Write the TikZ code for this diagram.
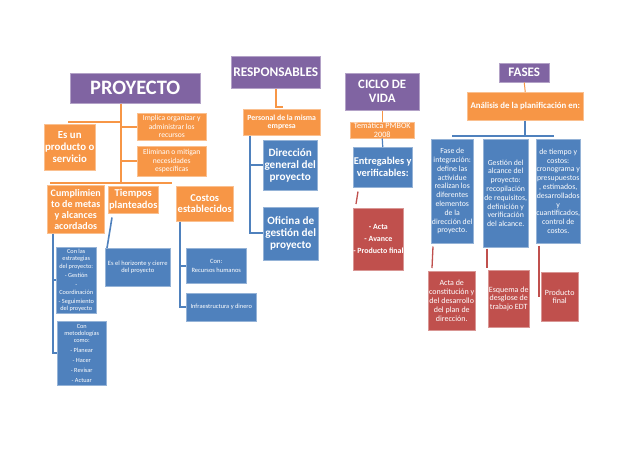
\documentclass[tikz,border=0pt]{standalone}
\usepackage{fontspec}
\setmainfont{Carlito}
\usetikzlibrary{positioning}
\definecolor{MapPurple}{RGB}{128,100,162}
\definecolor{MapOrange}{RGB}{247,150,70}
\definecolor{MapBlue}{RGB}{79,129,189}
\definecolor{MapRed}{RGB}{192,80,77}
\newcommand{\fsz}[2]{\fontsize{#1}{#2}\selectfont}

\begin{document}
\begin{tikzpicture}[x=1pt, y=-1pt,
  box/.style={anchor=north west, inner sep=1pt, align=center, text=white, line width=0.5pt},
  pbox/.style={box, fill=MapPurple, draw=MapPurple!60!white},
  obox/.style={box, fill=MapOrange, draw=MapOrange!60!white},
  bbox/.style={box, fill=MapBlue, draw=MapBlue!60!white},
  rbox/.style={box, fill=MapRed, draw=MapRed!60!white},
  oline/.style={draw=MapOrange, line width=1.6pt},
  bline/.style={draw=MapBlue, line width=1.6pt},
  rline/.style={draw=MapRed, line width=1.3pt}]
\fill[white] (0,0) rectangle (638,451); % background
\useasboundingbox (0,0) rectangle (638,451);

% PROYECTO
\node[pbox, minimum width=130, minimum height=30, font={\fsz{20.5}{23}\bfseries}] (proy) at (70,73) {PROYECTO};
\node[obox, minimum width=69, minimum height=27, inner sep=0pt, font=\fsz{7.6}{8.4}] (impl) at (137,113) {Implica organizar y\\administrar los\\recursos};
\node[obox, minimum width=51, minimum height=46, inner sep=0pt, font={\fsz{10.8}{12}\bfseries}] (prod) at (44,124) {Es un\\producto o\\servicio};
\node[obox, minimum width=69, minimum height=30, inner sep=0pt, font=\fsz{7.6}{8.4}] (elim) at (137,146) {Eliminan o mitigan\\necesidades\\específicas};
\node[obox, minimum width=57, minimum height=48, inner sep=0pt, font={\fsz{10}{11}\bfseries}] (cump) at (47,185) {Cumplimien\\to de metas\\y alcances\\acordados};
\node[obox, minimum width=50, minimum height=27, inner sep=0pt, font={\fsz{10.5}{11.5}\bfseries}] (tiemp) at (108,186) {Tiempos\\planteados};
\node[obox, minimum width=57, minimum height=35, inner sep=0pt, font={\fsz{10.5}{11.5}\bfseries}] (cost) at (176,186) {Costos\\establecidos};

\node[bbox, minimum width=40, minimum height=66, inner sep=0pt, font=\fsz{6.3}{7.6}] (estr) at (56,247) {Con las\\estrategias\\del proyecto:\\[1.5pt]- Gestión\\[1.5pt]-\\Coordinación\\[1.5pt]- Seguimiento\\del proyecto};
\node[bbox, minimum width=49, minimum height=64, inner sep=0pt, font=\fsz{6.3}{7.4}] (meto) at (57,321) {Con\\metodologías\\como:\\[2.5pt]- Planear\\[2.5pt]- Hacer\\[2.5pt]- Revisar\\[2.5pt]- Actuar};
\node[bbox, minimum width=65, minimum height=38, inner sep=0pt, font=\fsz{6.5}{7.8}] (horiz) at (105,248) {Es el horizonte y cierre\\del proyecto};
\node[bbox, minimum width=60, minimum height=35, inner sep=0pt, font=\fsz{6.5}{8}] (recu) at (186,248) {Con:\\[1pt]Recursos humanos};
\node[bbox, minimum width=70, minimum height=28, inner sep=0pt, font=\fsz{6.4}{7.4}] (infra) at (186,293) {Infraestructura y dinero};

\coordinate (ptrunk) at (121,183);
\coordinate (pleft) at (68,122);
\coordinate (pbar) at (50,183);
\coordinate (pbarend) at (172,183);
\draw[oline] (ptrunk |- proy.south) -- (ptrunk);
\draw[oline] (pleft) -- (pleft -| ptrunk);
\draw[oline] (ptrunk |- impl.west) -- (impl.west);
\draw[oline] (ptrunk |- elim.west) -- (elim.west);
\draw[oline] (pbar) -- (pbarend);

\coordinate (cline) at (53,353);
\draw[bline] (cline |- cump.south) -- (cline) -- (cline -| meto.west);
\draw[bline] (cline |- estr.west) -- (estr.west);
\draw[bline] ([xshift=4pt,yshift=-4pt]tiemp.south west) -- ([xshift=2pt]horiz.north west);
\coordinate (kline) at (180,307);
\draw[bline] (kline |- cost.south) -- (kline) -- (kline -| infra.west);
\draw[bline] (kline |- recu.west) -- (recu.west);

% RESPONSABLES
\node[pbox, minimum width=89, minimum height=32, font={\fsz{13.3}{15}\bfseries}] (resp) at (231,56) {RESPONSABLES};
\node[obox, minimum width=77, minimum height=26, inner sep=0pt, font={\fsz{7.8}{8.6}\bfseries}] (pers) at (243,109) {Personal de la misma\\empresa};
\node[bbox, minimum width=54, minimum height=50, inner sep=0pt, font={\fsz{11.2}{12}\bfseries}] (dire) at (263,140) {Dirección\\general del\\proyecto};
\node[bbox, minimum width=55, minimum height=53, inner sep=0pt, font={\fsz{11.2}{12}\bfseries}] (ofic) at (263,207) {Oficina de\\gestión del\\proyecto};

\coordinate (rhook) at (276,107);
\coordinate (rhookend) at (283,107);
\draw[oline, line width=1.2pt] (rhook |- resp.south) -- (rhook) -- (rhookend);
\coordinate (pline) at (250,233);
\draw[bline] (pline |- pers.south) -- (pline) -- (pline -| ofic.west);
\draw[bline] (pline |- dire.west) -- (dire.west);

% CICLO DE VIDA
\node[pbox, minimum width=74, minimum height=37, font={\fsz{12.8}{14}\bfseries}] (cicl) at (345,73) {CICLO DE\\VIDA};
\node[obox, minimum width=64, minimum height=16, inner sep=0pt, font=\fsz{8.2}{8.4}] (tema) at (350,122) {Temática PMBOK\\2008};
\node[bbox, minimum width=59, minimum height=40, inner sep=0pt, font={\fsz{10.4}{12}\bfseries}] (entr) at (353,147) {Entregables y\\verificables:};
\node[rbox, minimum width=49, minimum height=62, inner sep=0pt, font={\fsz{7.9}{12}\bfseries}] (ciac) at (353,208) {- Acta\\- Avance\\- Producto final};

\draw[oline, line width=1.2pt] (cicl.south) -- (tema.north);
\draw[bline, line width=1.2pt] (tema.south) -- (entr.north);
\draw[rline] ([xshift=5pt,yshift=-4pt]entr.south west) -- ([xshift=3pt,yshift=4pt]ciac.north west);

% FASES
\node[pbox, minimum width=50, minimum height=19, inner sep=0pt, font={\fsz{13}{14}\bfseries}] (fase) at (499,63) {FASES};
\node[obox, minimum width=116, minimum height=28, inner sep=0pt, font={\fsz{8.8}{9}\bfseries}] (anal) at (467,92) {Análisis de la planificación en:};
\node[bbox, minimum width=42, minimum height=104, inner sep=0pt, font=\fsz{7.8}{8.8}] (integ) at (431,139) {Fase de\\integración:\\define las\\actividue\\realizan los\\diferentes\\elementos\\de la\\dirección del\\proyecto.};
\node[bbox, minimum width=45, minimum height=108, inner sep=0pt, font=\fsz{7.8}{8.8}] (alca) at (483,139) {Gestión del\\alcance del\\proyecto:\\recopilación\\de requisitos,\\definición y\\verificación\\del alcance.};
\node[bbox, minimum width=44, minimum height=104, inner sep=0pt, font=\fsz{7.8}{8.8}] (tiem) at (536,139) {de tiempo y\\costos:\\cronograma y\\presupuestos\\, estimados,\\desarrollados\\y\\cuantificados,\\control de\\costos.};
\node[rbox, minimum width=47, minimum height=59, inner sep=0pt, font=\fsz{8}{8.8}] (acon) at (428,271) {Acta de\\constitución y\\del desarrollo\\del plan de\\dirección.};
\node[rbox, minimum width=41, minimum height=57, inner sep=0pt, font=\fsz{8}{8.8}] (esq) at (488,270) {Esquema de\\desglose de\\trabajo EDT};
\node[rbox, minimum width=37, minimum height=49, inner sep=0pt, font=\fsz{8}{8.8}] (pfin) at (541,272) {Producto\\final};

\coordinate (fbarl) at (452,136);
\coordinate (fbarr) at (554,136);
\draw[oline, line width=1pt] (fase.south) -- (anal.north);
\draw[bline] (anal.south) -- (anal.south |- fbarl);
\draw[bline] (fbarl) -- (fbarr);
\draw[rline] ([xshift=2pt,yshift=-3pt]integ.south west) -- ([xshift=4pt,yshift=3pt]acon.north west);
\draw[rline] ([xshift=4pt,yshift=-1pt]alca.south west) -- ([xshift=-1pt,yshift=2pt]esq.north west);
\draw[rline] ([xshift=3pt,yshift=-2pt]tiem.south west) -- ([xshift=-2pt]pfin.west);
\end{tikzpicture}
\end{document}
